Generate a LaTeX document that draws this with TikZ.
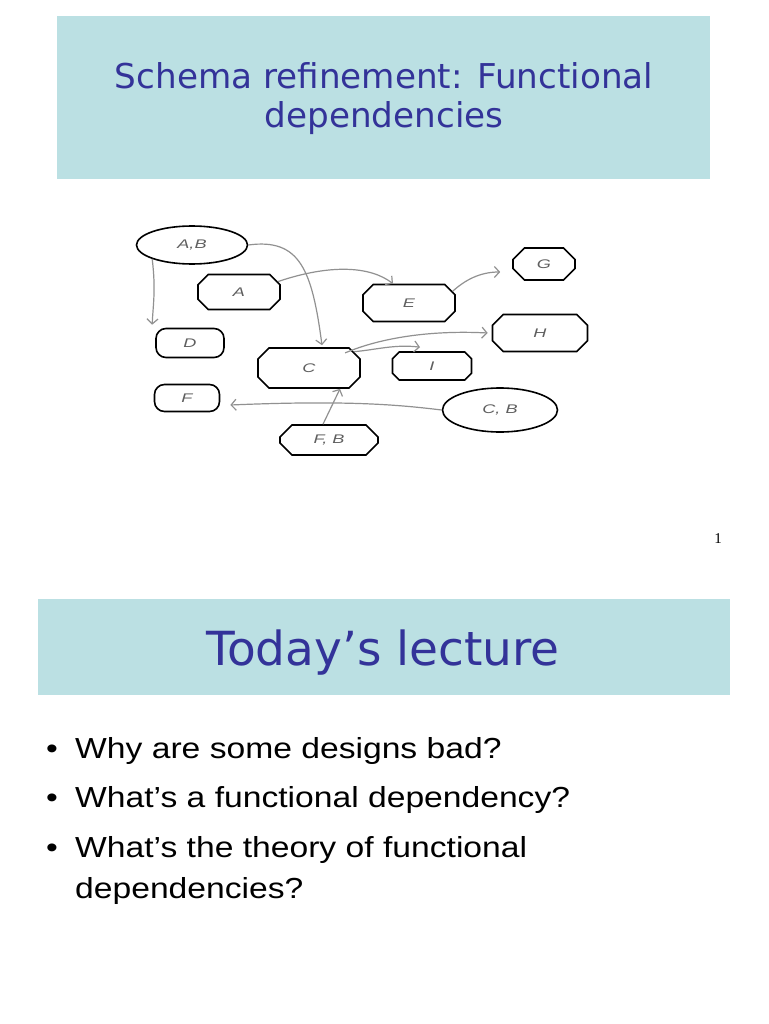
\documentclass[tikz,border=0pt]{standalone}
\usepackage{fontspec}
\setmainfont{DejaVu Sans}
\newfontfamily\bodyfont[FakeStretch=1.16]{Liberation Sans}
\newfontfamily\lblfont[FakeStretch=1.45]{Liberation Sans}
\newfontfamily\numfont{Liberation Serif}
\usetikzlibrary{shapes.misc,shapes.geometric,arrows.meta,calc}
\definecolor{boxcyan}{RGB}{187,224,227}
\definecolor{titleblue}{RGB}{51,51,153}
\definecolor{arrgray}{RGB}{145,145,145}
\definecolor{lblgray}{RGB}{95,95,95}
\begin{document}
\begin{tikzpicture}[x=1pt,y=-1pt,
  blobbase/.style={draw=black, line width=1.6pt, inner sep=0pt,
    font=\lblfont\itshape\fontsize{12.5}{14}\selectfont, text=lblgray},
  octo/.style={blobbase, chamfered rectangle, chamfered rectangle xsep=8pt, chamfered rectangle ysep=7pt},
  oval/.style={blobbase, ellipse},
  roundblob/.style={blobbase, rectangle, rounded corners=10pt},
  arr/.style={draw=arrgray, line width=1.2pt, -{Straight Barb[length=5pt,width=11pt]}},
  hbox/.style={fill=boxcyan, inner sep=0pt},
  titletext/.style={text=titleblue, inner sep=0pt, anchor=base},
  bullettext/.style={font=\bodyfont\fontsize{29}{34}\selectfont, inner sep=0pt, anchor=base west}
]
\useasboundingbox (0,0) rectangle (768,1024);
\fill[white] (0,0) rectangle (768,1024);

% title box
\node[hbox, minimum width=653pt, minimum height=163pt] (titlebox) at (383.5,97.5) {};
\node[titletext, font=\fontsize{34.2}{40}\selectfont] (title1) at (384,88.5) {Schema refinement: Functional};
\node[titletext, font=\fontsize{34.2}{40}\selectfont] (title2) at (384,127.5) {dependencies};

% diagram nodes
\node[oval, minimum width=111pt, minimum height=38pt] (AB) at (192,245) {A,B};
\node[octo, minimum width=82pt, minimum height=35pt] (A) at (239,292) {A};
\node[octo, minimum width=92pt, minimum height=37pt] (E) at (409,303) {E};
\node[octo, minimum width=62pt, minimum height=32pt] (G) at (544,264) {G};
\node[octo, minimum width=95pt, minimum height=37pt] (H) at (540,333) {H};
\node[roundblob, minimum width=68pt, minimum height=29pt] (D) at (190,343) {D};
\node[octo, minimum width=102pt, minimum height=40pt] (C) at (309,368) {C};
\node[octo, minimum width=79pt, minimum height=28pt] (I) at (432,366) {I};
\node[roundblob, minimum width=65pt, minimum height=27pt] (F) at (187,398) {F};
\node[oval, minimum width=115pt, minimum height=44pt] (CB) at (500,410) {C, B};
\node[octo, minimum width=98pt, minimum height=30pt] (FB) at (329,440) {F, B};

% connectors
\draw[arr] (AB.south west) .. controls (156,290) and (153,305) .. ([xshift=-3pt,yshift=3pt]D.north west);
\draw[arr] (AB.east) .. controls (300,238) and (312,270) .. ([xshift=13pt,yshift=2pt]C.north);
\draw[arr] (A.15) .. controls (330,264) and (370,266) .. ([xshift=-16pt]E.north);
\draw[arr] (E.15) .. controls (465,280) and (480,272) .. ([xshift=-12pt,yshift=-8pt]G.west);
\draw[arr] ([xshift=-10pt]C.north east) .. controls (380,338) and (430,330) .. ([xshift=-4pt]H.west);
\draw[arr] (C.20) .. controls (375,350) and (395,344) .. ([xshift=-12pt,yshift=4pt]I.north);
\draw[arr] (CB.west) .. controls (400,405) and (350,400) .. ([xshift=10pt,yshift=-7pt]F.east);
\draw[arr] ([xshift=-6pt]FB.north) -- ([xshift=31pt]C.south);

% page number
\node[font=\numfont\fontsize{15}{18}\selectfont, inner sep=0pt, anchor=base] (pnum) at (718,543) {1};

% second slide
\node[hbox, minimum width=692pt, minimum height=96pt] (headbox) at (384,647) {};
\node[titletext, font=\fontsize{47}{56}\selectfont] (heading) at (383,665) {Today’s lecture};

\node[bullettext] (b1) at (46,758) {•};
\node[bullettext] (t1) at (75,758) {Why are some designs bad?};
\node[bullettext] (b2) at (46,807) {•};
\node[bullettext] (t2) at (75,807) {What’s a functional dependency?};
\node[bullettext] (b3) at (46,857) {•};
\node[bullettext] (t3) at (75,857) {What’s the theory of functional};
\node[bullettext] (t4) at (75,898) {dependencies?};
\end{tikzpicture}
\end{document}
